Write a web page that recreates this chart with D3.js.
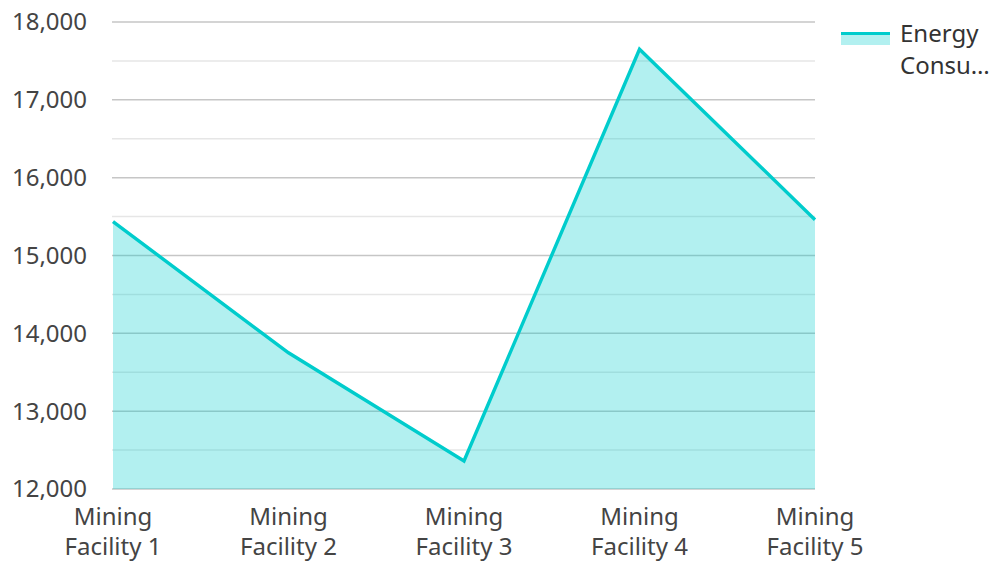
<!DOCTYPE html>
<html><head><meta charset="utf-8">
<script src="https://cdn.jsdelivr.net/npm/d3@7"></script>
<style>body{margin:0;background:#fff}svg{display:block}text{font-family:"Noto Sans",sans-serif}</style>
</head><body><svg id="c" width="994" height="562"></svg>
<script>
const categories = ["Mining Facility 1","Mining Facility 2","Mining Facility 3","Mining Facility 4","Mining Facility 5"];
const values = [15435, 13750, 12360, 17650, 15460];
const seriesName = "Energy Consumption";
const yTicks = [12000,13000,14000,15000,16000,17000,18000];
const yMinor = [12500,13500,14500,15500,16500,17500];

const svg = d3.select("#c");
const L = 113, R = 815, T = 22, B = 489;
const x = d3.scalePoint().domain(categories).range([L, R]);
const y = d3.scaleLinear().domain([12000, 18000]).range([B, T]);
const color = "#00cccc";

svg.append("g").selectAll("line").data(yMinor).join("line")
  .attr("x1", L-1).attr("x2", R).attr("y1", d=>y(d)).attr("y2", d=>y(d))
  .attr("stroke", "#e6e6e6").attr("stroke-width", 1.5);
svg.append("g").selectAll("line").data(yTicks).join("line")
  .attr("x1", L-1).attr("x2", R).attr("y1", d=>y(d)).attr("y2", d=>y(d))
  .attr("stroke", "#c6c6c6").attr("stroke-width", 1.5);

svg.append("g").selectAll("text").data(yTicks).join("text")
  .attr("x", 87).attr("y", d=>y(d)).attr("dy", "0.35em").attr("text-anchor", "end")
  .attr("font-size", 24).attr("fill", "#444").text(d=>d3.format(",")(d));

const data = categories.map((c,i)=>({c, v: values[i]}));
svg.append("path").datum(data)
  .attr("d", d3.area().x(d=>x(d.c)).y0(y(12000)).y1(d=>y(d.v)))
  .attr("fill", color).attr("fill-opacity", 0.3);
svg.append("path").datum(data)
  .attr("d", d3.line().x(d=>x(d.c)).y(d=>y(d.v)))
  .attr("fill", "none").attr("stroke", color).attr("stroke-width", 3.4).attr("stroke-linejoin","miter");

const xl = svg.append("g").selectAll("text").data(categories).join("text")
  .attr("text-anchor", "middle").attr("font-size", 24).attr("fill", "#444");
xl.each(function(d){
  const t = d3.select(this);
  const words = d.split(" ");
  t.append("tspan").attr("x", x(d)).attr("y", 525).text(words[0]);
  t.append("tspan").attr("x", x(d)).attr("y", 555).text(words.slice(1).join(" "));
});

const lg = svg.append("g");
lg.append("rect").attr("x", 841).attr("y", 34).attr("width", 49).attr("height", 11)
  .attr("fill", color).attr("fill-opacity", 0.3);
lg.append("line").attr("x1", 841).attr("x2", 890).attr("y1", 33.5).attr("y2", 33.5)
  .attr("stroke", color).attr("stroke-width", 3);
const lt = lg.append("text").attr("font-size", 24).attr("fill", "#333");
lt.append("tspan").attr("x", 900).attr("y", 42).text("Energy");
lt.append("tspan").attr("x", 900).attr("y", 74).text("Consu…");
lt.append("title").text(seriesName);
</script></body></html>
